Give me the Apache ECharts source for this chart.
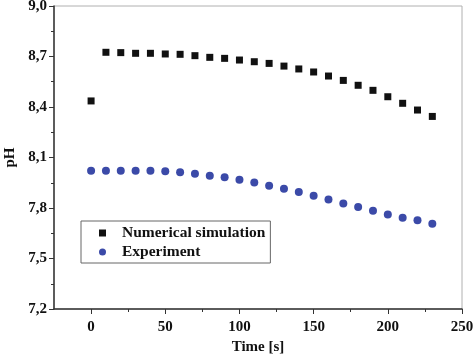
<!DOCTYPE html>
<html>
<head>
<meta charset="utf-8">
<script src="https://cdn.jsdelivr.net/npm/echarts@6/dist/echarts.min.js"></script>
<style>html,body{margin:0;padding:0;background:#fff}#c{width:474px;height:356px}</style>
</head>
<body>
<div id="c"></div>
<script>
var timeValues = [0,10,20,30,40,50,60,70,80,90,100,110,120,130,140,150,160,170,180,190,200,210,220,230];
var simulation = [8.436,8.725,8.723,8.719,8.719,8.715,8.713,8.705,8.695,8.689,8.679,8.669,8.659,8.643,8.626,8.608,8.584,8.558,8.529,8.499,8.461,8.422,8.382,8.344];
var experiment = [8.022,8.022,8.022,8.022,8.022,8.018,8.012,8.004,7.992,7.982,7.968,7.952,7.932,7.915,7.895,7.873,7.851,7.827,7.806,7.784,7.762,7.742,7.727,7.707];
var xMajorTicks = [0,50,100,150,200,250];
var xMinorTicks = [25,75,125,175,225];
var seriesNames = ['Numerical simulation','Experiment'];

var font = 'Liberation Serif';
function pairs(xs, ys){ return xs.map(function(x,i){ return [x, ys[i]]; }); }

var chart = echarts.init(document.getElementById('c'), null, {renderer:'canvas'});
chart.setOption({
  animation:false,
  backgroundColor:'#fff',
  grid:{left:54,right:12,top:6,bottom:47,show:true,borderColor:'#b0b0b0',borderWidth:1,backgroundColor:'transparent',outerBoundsMode:'none',containLabel:false},
  legend:{
    left:81, top:221, orient:'vertical',
    data:[{name:seriesNames[0],icon:'rect'},{name:seriesNames[1],icon:'circle'}],
    itemWidth:7, itemHeight:7, itemGap:3,
    borderColor:'#666', borderWidth:1, padding:[4,5,3,18],
    textStyle:{fontFamily:font,fontWeight:'bold',fontSize:15.5,color:'#111',lineHeight:16,padding:[0,0,0,11]}
  },
  xAxis:[{
    type:'value', min:-25, max:250,
    splitLine:{show:false},
    axisLine:{onZero:false,lineStyle:{color:'#333',width:1.5}},
    axisTick:{show:true,inside:false,length:5,customValues:xMajorTicks,lineStyle:{color:'#333'}},
    axisLabel:{customValues:xMajorTicks,fontFamily:font,fontWeight:'bold',fontSize:15,color:'#111',margin:11},
    name:'Time [s]', nameLocation:'middle', nameGap:31,
    nameTextStyle:{fontFamily:font,fontWeight:'bold',fontSize:15,color:'#111'}
  },{
    type:'value', min:-25, max:250, position:'bottom',
    splitLine:{show:false},
    axisLine:{show:false},
    axisTick:{show:true,length:3,customValues:xMinorTicks,lineStyle:{color:'#333'}},
    axisLabel:{show:false}
  }],
  yAxis:{
    type:'value', min:7.2, max:9.0, interval:0.3,
    splitLine:{show:false},
    axisLine:{onZero:false,lineStyle:{color:'#333',width:1.5}},
    axisTick:{show:true,inside:false,length:5,lineStyle:{color:'#333'}},
    minorTick:{show:true,splitNumber:2,length:3,lineStyle:{color:'#333'}},
    axisLabel:{fontFamily:font,fontWeight:'bold',fontSize:15,color:'#111',margin:7,
      formatter:function(v){ return v.toFixed(1).replace('.',','); }},
    name:'pH', nameLocation:'middle', nameGap:36,
    nameTextStyle:{fontFamily:font,fontWeight:'bold',fontSize:15,color:'#111'}
  },
  series:[{
    name:seriesNames[0], type:'scatter', xAxisIndex:0,
    symbol:'rect', symbolSize:7,
    itemStyle:{color:'#111',opacity:1},
    data:pairs(timeValues, simulation)
  },{
    name:seriesNames[1], type:'scatter', xAxisIndex:0,
    symbol:'circle', symbolSize:8,
    itemStyle:{color:'#3b4aa8',opacity:1},
    data:pairs(timeValues, experiment)
  }]
});
</script>
</body>
</html>
